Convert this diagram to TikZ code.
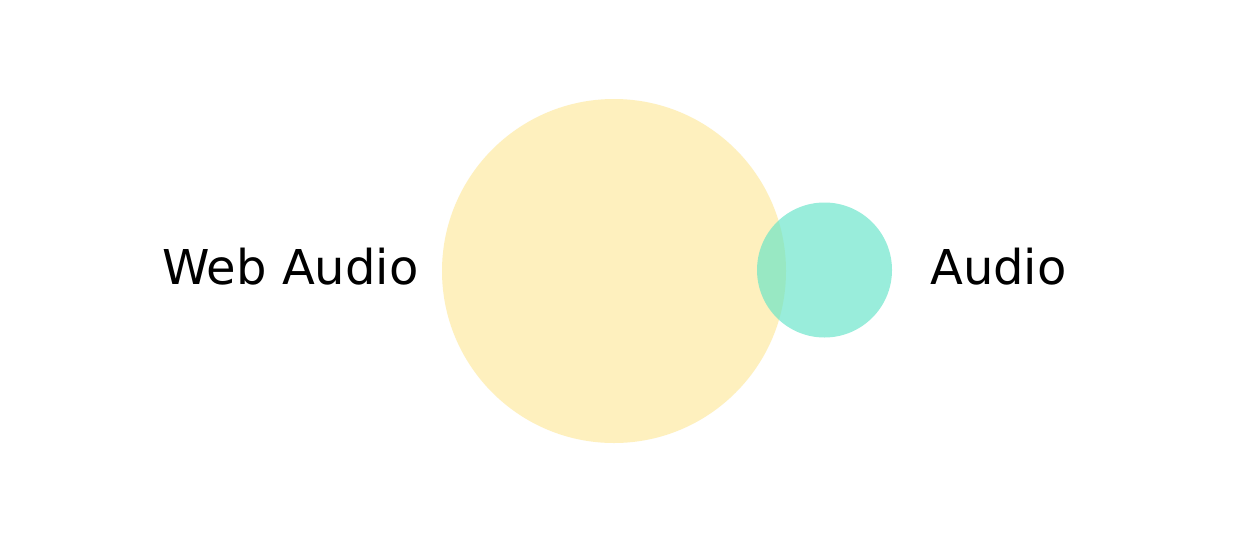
\documentclass[tikz,border=0pt]{standalone}
\usepackage{fontspec}
\setmainfont{DejaVu Sans}
\definecolor{sunny}{HTML}{FEF0BE}
\definecolor{mint}{RGB}{94,228,198}
\tikzset{
  lbl/.style={anchor=base west, inner sep=0pt, font=\fontsize{48}{56}\selectfont, text=black},
}
\begin{document}
\begin{tikzpicture}[x=1pt,y=-1pt]
\useasboundingbox (0,0) rectangle (1233,541);
\fill[white] (0,0) rectangle (1233,541);
\fill[sunny] (614,271) circle (172);
\fill[mint, fill opacity=0.63] (824.5,270) circle (67.5);
\node[lbl] (web) at (162,284) {Web Audio};
\node[lbl] (audio) at (930,284) {Audio};
\end{tikzpicture}
\end{document}
